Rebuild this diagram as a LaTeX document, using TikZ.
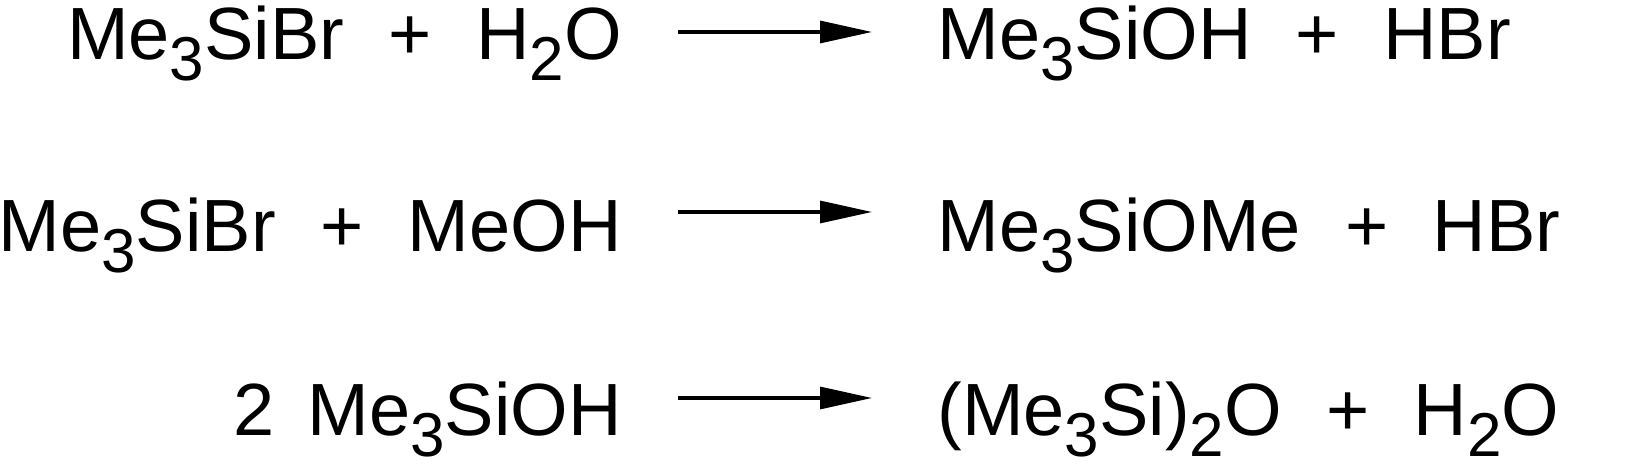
\documentclass[tikz,border=0pt]{standalone}
\usepackage{fontspec}
\setmainfont{Liberation Sans}
\usetikzlibrary{arrows.meta}
\newcommand{\lowidx}[1]{\raisebox{-0.28em}{\fontsize{31}{31}\selectfont #1}}
\newcommand{\plus}{\hspace{0.6em}+\hspace{0.6em}}
\tikzset{
  chem/.style={inner sep=0pt, font=\fontsize{37}{39}\selectfont},
  lhs/.style={chem, anchor=base east},
  rhs/.style={chem, anchor=base west},
  rxn/.style={line width=1.6pt, -{Stealth[length=26pt,width=11pt,inset=0pt]}}
}
\begin{document}
\begin{tikzpicture}[x=0.5pt,y=-0.5pt]
\useasboundingbox (0,0) rectangle (1630,474);
% reactants
\node[lhs] (r1) at (622,60) {Me\lowidx{3}SiBr\plus H\lowidx{2}O};
\node[lhs] (r2) at (622,252) {Me\lowidx{3}SiBr\plus MeOH};
\node[lhs] (r3) at (622,436) {2\hspace{0.45em}Me\lowidx{3}SiOH};
% products
\node[rhs] (p1) at (937,60) {Me\lowidx{3}SiOH\plus HBr};
\node[rhs] (p2) at (937,252) {Me\lowidx{3}SiOMe\plus HBr};
\node[rhs] (p3) at (937,436) {(Me\lowidx{3}Si)\lowidx{2}O\plus H\lowidx{2}O};
% arrows
\coordinate (a1) at (678,32); \coordinate (b1) at (872,32);
\coordinate (a2) at (678,212); \coordinate (b2) at (872,212);
\coordinate (a3) at (678,398); \coordinate (b3) at (872,398);
\draw[rxn] (a1) -- (b1);
\draw[rxn] (a2) -- (b2);
\draw[rxn] (a3) -- (b3);
\end{tikzpicture}
\end{document}
